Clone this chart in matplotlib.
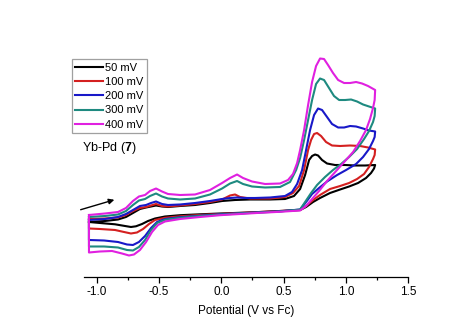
import matplotlib
matplotlib.use("Agg")
import matplotlib.pyplot as plt
from matplotlib.ticker import MultipleLocator

plt.rcParams['font.family'] = ['Liberation Sans', 'DejaVu Sans']
plt.rcParams['mathtext.fontset'] = 'custom'
plt.rcParams['mathtext.rm'] = 'Liberation Sans'
plt.rcParams['mathtext.bf'] = 'Liberation Sans:bold'
plt.rcParams['axes.unicode_minus'] = False

# Cyclic voltammograms of Yb-Pd (7), potential in V vs Fc, current in uA
# each list runs the forward (anodic) sweep then the return sweep
e_50 = [-1.062, -0.933, -0.829, -0.765, -0.709, -0.653, -0.604, -0.564, -0.524, -0.476, -0.428, -0.331,
        -0.211, -0.091, 0.006, 0.110, 0.230, 0.391, 0.511, 0.583, 0.632, 0.672, 0.704, 0.728, 0.752,
        0.776, 0.808, 0.848, 0.912, 0.993, 1.073, 1.153, 1.234,
        1.225, 1.201, 1.161, 1.097, 1.025, 0.953, 0.872, 0.792, 0.736, 0.680, 0.632, 0.471, 0.311,
        0.150, -0.010, -0.171, -0.331, -0.452, -0.532, -0.588, -0.636, -0.685, -0.725, -0.773, -0.853,
        -0.974, -1.062]
i_50 = [-0.90, -0.80, -0.65, -0.40, 0.00, 0.40, 0.55, 0.65, 0.75, 0.65, 0.60, 0.70,
        0.80, 1.00, 1.20, 1.30, 1.35, 1.35, 1.40, 1.70, 2.40, 3.80, 5.30, 5.70, 5.85,
        5.75, 5.30, 4.95, 4.80, 4.80, 4.75, 4.75, 4.80,
        4.45, 4.00, 3.50, 3.00, 2.65, 2.35, 2.00, 1.50, 1.10, 0.60, 0.30, 0.20, 0.10,
        0.02, -0.05, -0.13, -0.22, -0.35, -0.55, -0.80, -1.10, -1.33, -1.40, -1.30, -1.13,
        -1.00, -0.90]

e_100 = [-1.062, -0.933, -0.829, -0.765, -0.709, -0.653, -0.604, -0.564, -0.524, -0.476, -0.428, -0.331,
         -0.211, -0.091, 0.006, 0.070, 0.110, 0.150, 0.230, 0.391, 0.511, 0.575, 0.624, 0.664, 0.696,
         0.720, 0.744, 0.768, 0.800, 0.840, 0.888, 0.953, 1.033, 1.113, 1.177, 1.234,
         1.230, 1.217, 1.185, 1.145, 1.089, 1.025, 0.953, 0.872, 0.792, 0.736, 0.680, 0.632, 0.471,
         0.311, 0.150, -0.010, -0.171, -0.331, -0.452, -0.532, -0.580, -0.628, -0.677, -0.725, -0.781,
         -0.853, -0.974, -1.062, -1.062]
i_100 = [-0.60, -0.55, -0.45, -0.20, 0.20, 0.50, 0.60, 0.75, 0.90, 0.70, 0.65, 0.75,
         0.90, 1.10, 1.35, 1.75, 1.85, 1.60, 1.45, 1.45, 1.60, 2.00, 2.70, 4.30, 6.30,
         7.30, 7.90, 8.00, 7.70, 7.10, 6.75, 6.70, 6.75, 6.70, 6.55, 6.35,
         5.80, 5.40, 4.60, 3.90, 3.40, 3.00, 2.70, 2.40, 1.80, 1.30, 0.70, 0.30, 0.20,
         0.10, 0.00, -0.10, -0.20, -0.33, -0.48, -0.70, -1.10, -1.60, -1.95, -2.05, -1.90,
         -1.70, -1.60, -1.55, -0.60]

e_200 = [-1.062, -0.933, -0.829, -0.765, -0.709, -0.653, -0.604, -0.564, -0.524, -0.476, -0.428, -0.331,
         -0.211, -0.091, 0.006, 0.070, 0.126, 0.190, 0.270, 0.391, 0.511, 0.567, 0.608, 0.648, 0.680,
         0.712, 0.744, 0.776, 0.808, 0.848, 0.888, 0.937, 0.985, 1.033, 1.081, 1.137, 1.185, 1.234,
         1.230, 1.217, 1.185, 1.137, 1.081, 1.001, 0.929, 0.848, 0.784, 0.728, 0.680, 0.632, 0.471,
         0.311, 0.150, -0.010, -0.171, -0.331, -0.452, -0.516, -0.564, -0.612, -0.661, -0.709, -0.757,
         -0.829, -0.941, -1.062, -1.062]
i_200 = [-0.70, -0.60, -0.40, -0.10, 0.30, 0.70, 0.80, 1.00, 1.15, 0.90, 0.80, 0.85,
         1.00, 1.20, 1.40, 1.50, 1.55, 1.50, 1.50, 1.55, 1.70, 2.10, 2.90, 4.30, 6.30,
         8.30, 9.80, 10.45, 10.30, 9.60, 8.90, 8.55, 8.55, 8.70, 8.65, 8.45, 8.25, 8.15,
         7.60, 7.20, 6.40, 5.60, 4.90, 4.30, 3.80, 3.15, 2.50, 1.90, 1.10, 0.35, 0.17,
         0.07, -0.03, -0.13, -0.27, -0.42, -0.60, -0.90, -1.50, -2.30, -2.90, -3.20, -3.15,
         -2.90, -2.75, -2.70, -0.70]

e_300 = [-1.062, -0.933, -0.829, -0.765, -0.709, -0.661, -0.612, -0.572, -0.524, -0.476, -0.428, -0.331,
         -0.211, -0.091, 0.006, 0.070, 0.126, 0.174, 0.246, 0.351, 0.471, 0.551, 0.600, 0.632, 0.664,
         0.696, 0.728, 0.760, 0.792, 0.824, 0.864, 0.904, 0.945, 0.993, 1.041, 1.089, 1.137, 1.185, 1.234,
         1.230, 1.217, 1.185, 1.145, 1.089, 1.025, 0.961, 0.896, 0.832, 0.768, 0.720, 0.672, 0.632,
         0.471, 0.311, 0.150, -0.010, -0.171, -0.331, -0.452, -0.516, -0.564, -0.612, -0.661, -0.709,
         -0.757, -0.829, -0.941, -1.062, -1.062]
i_300 = [-0.40, -0.30, -0.15, 0.20, 0.80, 1.25, 1.40, 1.70, 1.95, 1.65, 1.45, 1.35,
         1.45, 1.85, 2.45, 2.95, 3.20, 2.90, 2.65, 2.55, 2.60, 3.10, 4.30, 5.50, 7.30,
         9.30, 11.30, 12.90, 13.45, 13.30, 12.50, 11.70, 11.30, 11.30, 11.35, 11.15, 10.85, 10.65, 10.45,
         9.70, 9.10, 8.20, 7.40, 6.40, 5.60, 4.90, 4.30, 3.60, 2.80, 2.00, 1.10, 0.35,
         0.15, 0.05, -0.05, -0.17, -0.30, -0.48, -0.68, -1.00, -1.70, -2.70, -3.40, -3.75,
         -3.70, -3.45, -3.35, -3.35, -0.40]

e_400 = [-1.062, -0.933, -0.829, -0.765, -0.709, -0.661, -0.612, -0.572, -0.524, -0.476, -0.428, -0.331,
         -0.211, -0.091, 0.006, 0.070, 0.126, 0.174, 0.246, 0.351, 0.471, 0.535, 0.575, 0.608, 0.632,
         0.664, 0.696, 0.728, 0.760, 0.792, 0.824, 0.856, 0.896, 0.937, 0.985, 1.033, 1.081, 1.129,
         1.177, 1.234,
         1.230, 1.217, 1.193, 1.161, 1.113, 1.057, 0.993, 0.921, 0.848, 0.784, 0.728, 0.680, 0.632,
         0.471, 0.311, 0.150, -0.010, -0.171, -0.331, -0.452, -0.508, -0.556, -0.604, -0.653, -0.701,
         -0.741, -0.797, -0.877, -0.974, -1.062, -1.062]
i_400 = [-0.20, -0.05, 0.10, 0.50, 1.20, 1.65, 1.80, 2.20, 2.45, 2.15, 1.90, 1.80,
         1.85, 2.30, 3.00, 3.50, 3.85, 3.50, 3.15, 2.90, 2.95, 3.30, 3.90, 5.00, 6.30,
         8.30, 10.80, 13.10, 14.70, 15.45, 15.40, 14.80, 14.00, 13.30, 13.00, 13.00, 13.10, 12.95,
         12.70, 12.30,
         11.30, 10.50, 9.40, 8.30, 7.20, 6.10, 5.20, 4.20, 3.20, 2.20, 1.40, 0.70, 0.25,
         0.12, 0.02, -0.10, -0.22, -0.40, -0.60, -0.85, -1.20, -1.90, -2.90, -3.70, -4.15,
         -4.25, -4.05, -3.80, -3.85, -3.95, -0.20]

rates = ['50 mV', '100 mV', '200 mV', '300 mV', '400 mV']
colors = ['#000000', '#d42020', '#1818c8', '#1e8a80', '#e020e0']

fig = plt.figure(figsize=(4.74, 3.32), dpi=100)
ax = fig.add_axes([0.1777, 0.1666, 0.6837, 0.7129])

curves = [(e_50, i_50), (e_100, i_100), (e_200, i_200), (e_300, i_300), (e_400, i_400)]
for (e, i), lab, c in zip(curves, rates, colors):
    ax.plot(e, i, color=c, lw=1.5, label=lab, solid_joinstyle='round')

ax.set_xlim(-1.1, 1.5)
ax.set_ylim(-6.37, 17.3)

# only the potential axis is shown
for s in ['left', 'right', 'top']:
    ax.spines[s].set_visible(False)
ax.spines['bottom'].set_linewidth(0.9)
ax.set_yticks([])
ax.xaxis.set_major_locator(MultipleLocator(0.5))
ax.xaxis.set_minor_locator(MultipleLocator(0.25))
ax.tick_params(axis='x', which='major', length=4, width=0.9, labelsize=8.5, pad=3)
ax.tick_params(axis='x', which='minor', length=2.5, width=0.9)
ax.set_xlabel('Potential (V vs Fc)', fontsize=8.5, labelpad=5)

leg = ax.legend(loc='upper left', bbox_to_anchor=(-0.039, 0.918), borderaxespad=0,
                fontsize=8, frameon=True, fancybox=False, edgecolor='#888888',
                handlelength=2.5, handletextpad=0.2, borderpad=0.3, labelspacing=0.38)
leg.get_frame().set_linewidth(0.9)

ax.text(-0.008, 0.5425, r'Yb-Pd ($\mathbf{7}$)', transform=ax.transAxes,
        fontsize=9, va='center', ha='left')

# scan direction arrow
ax.annotate('', xy=(-0.837, 1.4), xytext=(-1.150, 0.25), annotation_clip=False,
            arrowprops=dict(arrowstyle='-|>', color='k', lw=1, mutation_scale=8))

fig.savefig('out.png', dpi=100)
